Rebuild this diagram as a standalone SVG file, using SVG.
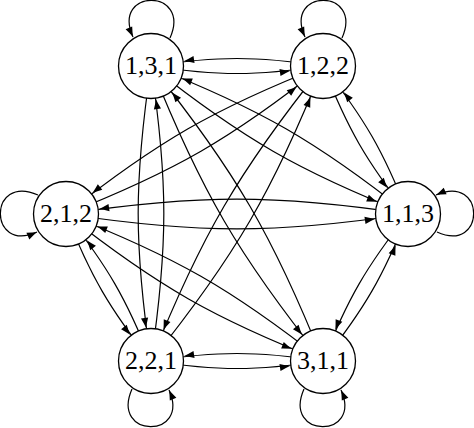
<svg xmlns="http://www.w3.org/2000/svg" width="474" height="428" viewBox="0 0 474 428">
<style>
.e{fill:none;stroke:#000;stroke-width:1.2;marker-end:url(#ae)}
.l{fill:none;stroke:#000;stroke-width:1.2;marker-end:url(#al)}
.n circle{fill:#fff;stroke:#000;stroke-width:1.3}
.n text{font-family:"Liberation Serif","DejaVu Serif",serif;font-size:26px;text-anchor:middle;fill:#000}
</style>
<defs>
<marker id="ae" markerUnits="userSpaceOnUse" markerWidth="60" markerHeight="12" refX="50" refY="6" orient="auto">
<path d="M16.5,6 Q12.5,4.8 6.5,2.4 L6.5,9.6 Q12.5,7.2 16.5,6 Z" fill="#000"/>
</marker>
<marker id="al" markerUnits="userSpaceOnUse" markerWidth="12" markerHeight="12" refX="11" refY="6" orient="auto">
<path d="M11,6 Q7,4.8 1,2.4 L1,9.6 Q7,7.2 11,6 Z" fill="#000"/>
</marker>
</defs>
<g id="connectors">
<path class="e" d="M151,66 C217.6,76 256.4,76 323,66"/>
<path class="e" d="M323,66 C256.4,56 217.6,56 151,66"/>
<path class="e" d="M151,361 C217.6,371 256.4,371 323,361"/>
<path class="e" d="M323,361 C256.4,351 217.6,351 151,361"/>
<path class="e" d="M66,214 C198.4,233.8 275.6,233.8 408,214"/>
<path class="e" d="M408,214 C275.6,194.2 198.4,194.2 66,214"/>
<path class="e" d="M151,66 C133.9,180.2 133.9,246.8 151,361"/>
<path class="e" d="M151,361 C168.1,246.8 168.1,180.2 151,66"/>
<path class="e" d="M323,66 C347.3,128.2 366.5,161.6 408,214"/>
<path class="e" d="M408,214 C383.7,151.8 364.5,118.4 323,66"/>
<path class="e" d="M66,214 C90.4,275.8 109.6,309 151,361"/>
<path class="e" d="M151,361 C126.6,299.2 107.4,266 66,214"/>
<path class="e" d="M408,214 C366.6,266 347.4,299.2 323,361"/>
<path class="e" d="M323,361 C364.4,309 383.6,275.8 408,214"/>
<path class="e" d="M151,66 C241.9,138.2 299.9,171.6 408,214"/>
<path class="e" d="M408,214 C317.1,141.8 259.1,108.4 151,66"/>
<path class="e" d="M323,66 C214.9,108.4 156.9,141.8 66,214"/>
<path class="e" d="M66,214 C174.1,171.6 232.1,138.2 323,66"/>
<path class="e" d="M66,214 C157,285.8 215,319 323,361"/>
<path class="e" d="M323,361 C232,289.2 174,256 66,214"/>
<path class="e" d="M151,66 C200.5,190.2 239.3,256.7 323,361"/>
<path class="e" d="M323,361 C273.5,236.8 234.7,170.3 151,66"/>
<path class="e" d="M323,66 C239.3,170.3 200.5,236.8 151,361"/>
<path class="e" d="M151,361 C234.7,256.7 273.5,190.2 323,66"/>
<path class="l" d="M170,38 C192,-12 111,-12 133,37"/>
<path class="l" d="M342,38 C364,-12 283,-12 305,37"/>
<path class="l" d="M38,195 C-12,173 -12,254 37,232"/>
<path class="l" d="M437,232 C486,254 486,173 436,195"/>
<path class="l" d="M132,389 C110,439 191,439 169,390"/>
<path class="l" d="M304,389 C282,439 363,439 341,390"/>
</g>
<g id="n131" class="n"><circle cx="151" cy="66" r="32.5"/><text x="151" y="74">1,3,1</text></g>
<g id="n122" class="n"><circle cx="323" cy="66" r="32.5"/><text x="323" y="74">1,2,2</text></g>
<g id="n212" class="n"><circle cx="66" cy="214" r="32.5"/><text x="66" y="222">2,1,2</text></g>
<g id="n113" class="n"><circle cx="408" cy="214" r="32.5"/><text x="408" y="222">1,1,3</text></g>
<g id="n221" class="n"><circle cx="151" cy="361" r="32.5"/><text x="151" y="369">2,2,1</text></g>
<g id="n311" class="n"><circle cx="323" cy="361" r="32.5"/><text x="323" y="369">3,1,1</text></g>
</svg>
